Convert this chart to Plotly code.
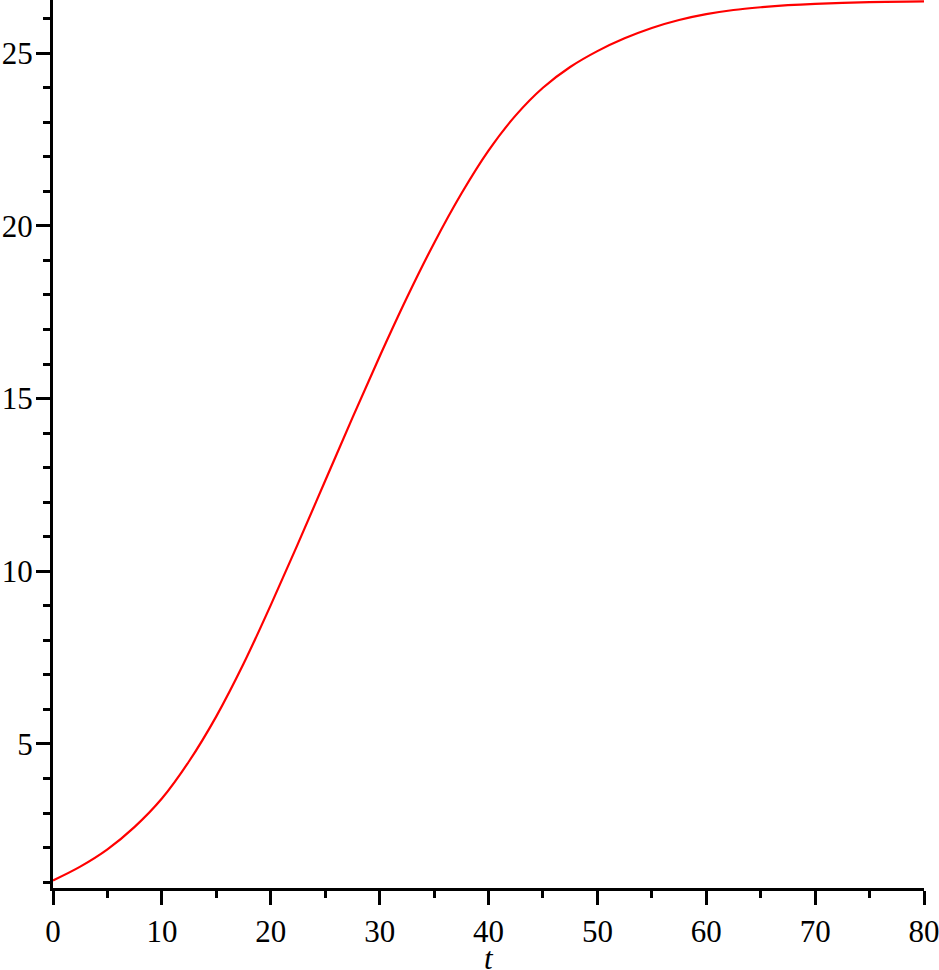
"""
Growth curve over time (t from 0 to 80), Maple-style axes
"""

import plotly.graph_objects as go

# values
t_values = [0, 2.5, 5, 7.5, 10, 12.5, 15, 17.5, 20, 22.5, 25, 27.5, 30,
            32.5, 35, 37.5, 40, 42.5, 45, 47.5, 50, 52.5, 55, 57.5, 60,
            62.5, 65, 67.5, 70, 75, 80]
y_values = [1.05, 1.45, 1.95, 2.6, 3.42, 4.5, 5.8, 7.32, 9.02, 10.8, 12.62,
            14.44, 16.22, 17.92, 19.5, 20.93, 22.18, 23.2, 24.0, 24.6,
            25.06, 25.43, 25.73, 25.96, 26.13, 26.25, 26.33, 26.39, 26.43,
            26.48, 26.5]

x_ticks = [0, 10, 20, 30, 40, 50, 60, 70, 80]
y_ticks = [5, 10, 15, 20, 25]

FONT = "Liberation Serif"

fig = go.Figure()

fig.add_trace(
    go.Scatter(
        x=t_values,
        y=y_values,
        mode="lines",
        line=dict(color="#ff0000", width=2.2, shape="spline", smoothing=1),
        showlegend=False,
    )
)

fig.update_layout(
    width=939,
    height=970,
    margin=dict(l=53, r=15, t=0, b=82),
    paper_bgcolor="white",
    plot_bgcolor="white",
    font=dict(family=FONT, size=31, color="black"),
)

# axis title as an annotation so it sits under the tick labels
fig.add_annotation(
    text="<i>t</i>",
    xref="paper",
    yref="paper",
    x=0.5,
    y=-0.079,
    xanchor="center",
    yanchor="middle",
    showarrow=False,
    font=dict(family=FONT, size=31),
)

fig.update_xaxes(
    range=[0, 80],
    tickvals=x_ticks,
    ticks="outside",
    ticklen=14,
    tickwidth=2.5,
    tickcolor="black",
    ticklabelstandoff=0,
    ticklabeloverflow="allow",
    minor=dict(dtick=5, tick0=0, ticks="outside", ticklen=7, tickwidth=2.5,
               tickcolor="black", showgrid=False),
    showline=True,
    linewidth=3,
    linecolor="black",
    showgrid=False,
    zeroline=False,
    automargin=False,
)

fig.update_yaxes(
    range=[0.83, 26.54],
    tickvals=y_ticks,
    ticks="outside",
    ticklen=14,
    tickwidth=2.5,
    tickcolor="black",
    ticklabelstandoff=-3,
    ticklabeloverflow="allow",
    minor=dict(dtick=1, tick0=0, ticks="outside", ticklen=7, tickwidth=2.5,
               tickcolor="black", showgrid=False),
    showline=True,
    linewidth=3,
    linecolor="black",
    showgrid=False,
    zeroline=False,
    automargin=False,
)

# drop the default page margin so the figure fills the window exactly
fig.write_html(
    "out.html",
    config={"displayModeBar": False},
    post_script="document.body.style.margin='0';",
)
